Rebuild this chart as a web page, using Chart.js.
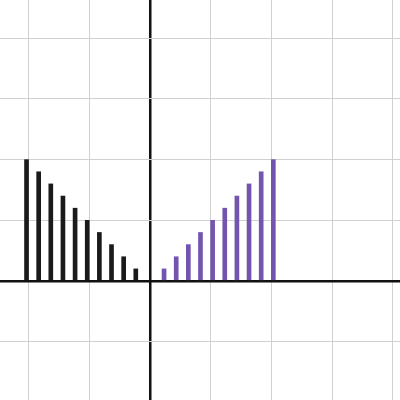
<!DOCTYPE html>
<html>
<head>
<script src="https://cdn.jsdelivr.net/npm/chart.js@4/dist/chart.umd.min.js"></script>
<style>html,body{margin:0;padding:0;background:#fff}#wrap{width:400px;height:400px}</style>
</head>
<body>
<div id="wrap"><canvas id="myChart"></canvas></div>
<script>
// bar positions and heights
const leftX = [-2, -1.8, -1.6, -1.4, -1.2, -1, -0.8, -0.6, -0.4, -0.2];
const leftY = [2, 1.8, 1.6, 1.4, 1.2, 1, 0.8, 0.6, 0.4, 0.2];
const rightX = [0.2, 0.4, 0.6, 0.8, 1, 1.2, 1.4, 1.6, 1.8, 2];
const rightY = [0.2, 0.4, 0.6, 0.8, 1, 1.2, 1.4, 1.6, 1.8, 2];
const xTicks = [-2, -1, 0, 1, 2, 3, 4];
const yTicks = [-1, 0, 1, 2, 3, 4];

const toPoints = (xs, ys) => xs.map((x, i) => ({ x: x, y: ys[i] }));
const gridColor = ctx => ctx.tick && ctx.tick.value === 0 ? '#111' : '#d0d0d0';
const gridWidth = ctx => ctx.tick && ctx.tick.value === 0 ? 2.5 : 1;

new Chart(document.getElementById('myChart'), {
    type: 'bar',
    data: {
        datasets: [
            { data: toPoints(leftX, leftY), backgroundColor: '#1a1a1a', barThickness: 4 },
            { data: toPoints(rightX, rightY), backgroundColor: '#7355b0', barThickness: 4 }
        ]
    },
    options: {
        responsive: true,
        maintainAspectRatio: false,
        animation: false,
        layout: { padding: 0 },
        plugins: { legend: { display: false }, tooltip: { enabled: false } },
        scales: {
            x: {
                type: 'linear', min: -2.47, max: 4.12, offset: false,
                afterBuildTicks: s => { s.ticks = xTicks.map(v => ({ value: v })); },
                ticks: { display: false },
                border: { display: false },
                grid: { color: gridColor, lineWidth: gridWidth, drawTicks: false, offset: false }
            },
            y: {
                type: 'linear', min: -1.96, max: 4.63,
                afterBuildTicks: s => { s.ticks = yTicks.map(v => ({ value: v })); },
                ticks: { display: false },
                border: { display: false },
                grid: { color: gridColor, lineWidth: gridWidth, drawTicks: false }
            }
        }
    }
});
</script>
</body>
</html>
